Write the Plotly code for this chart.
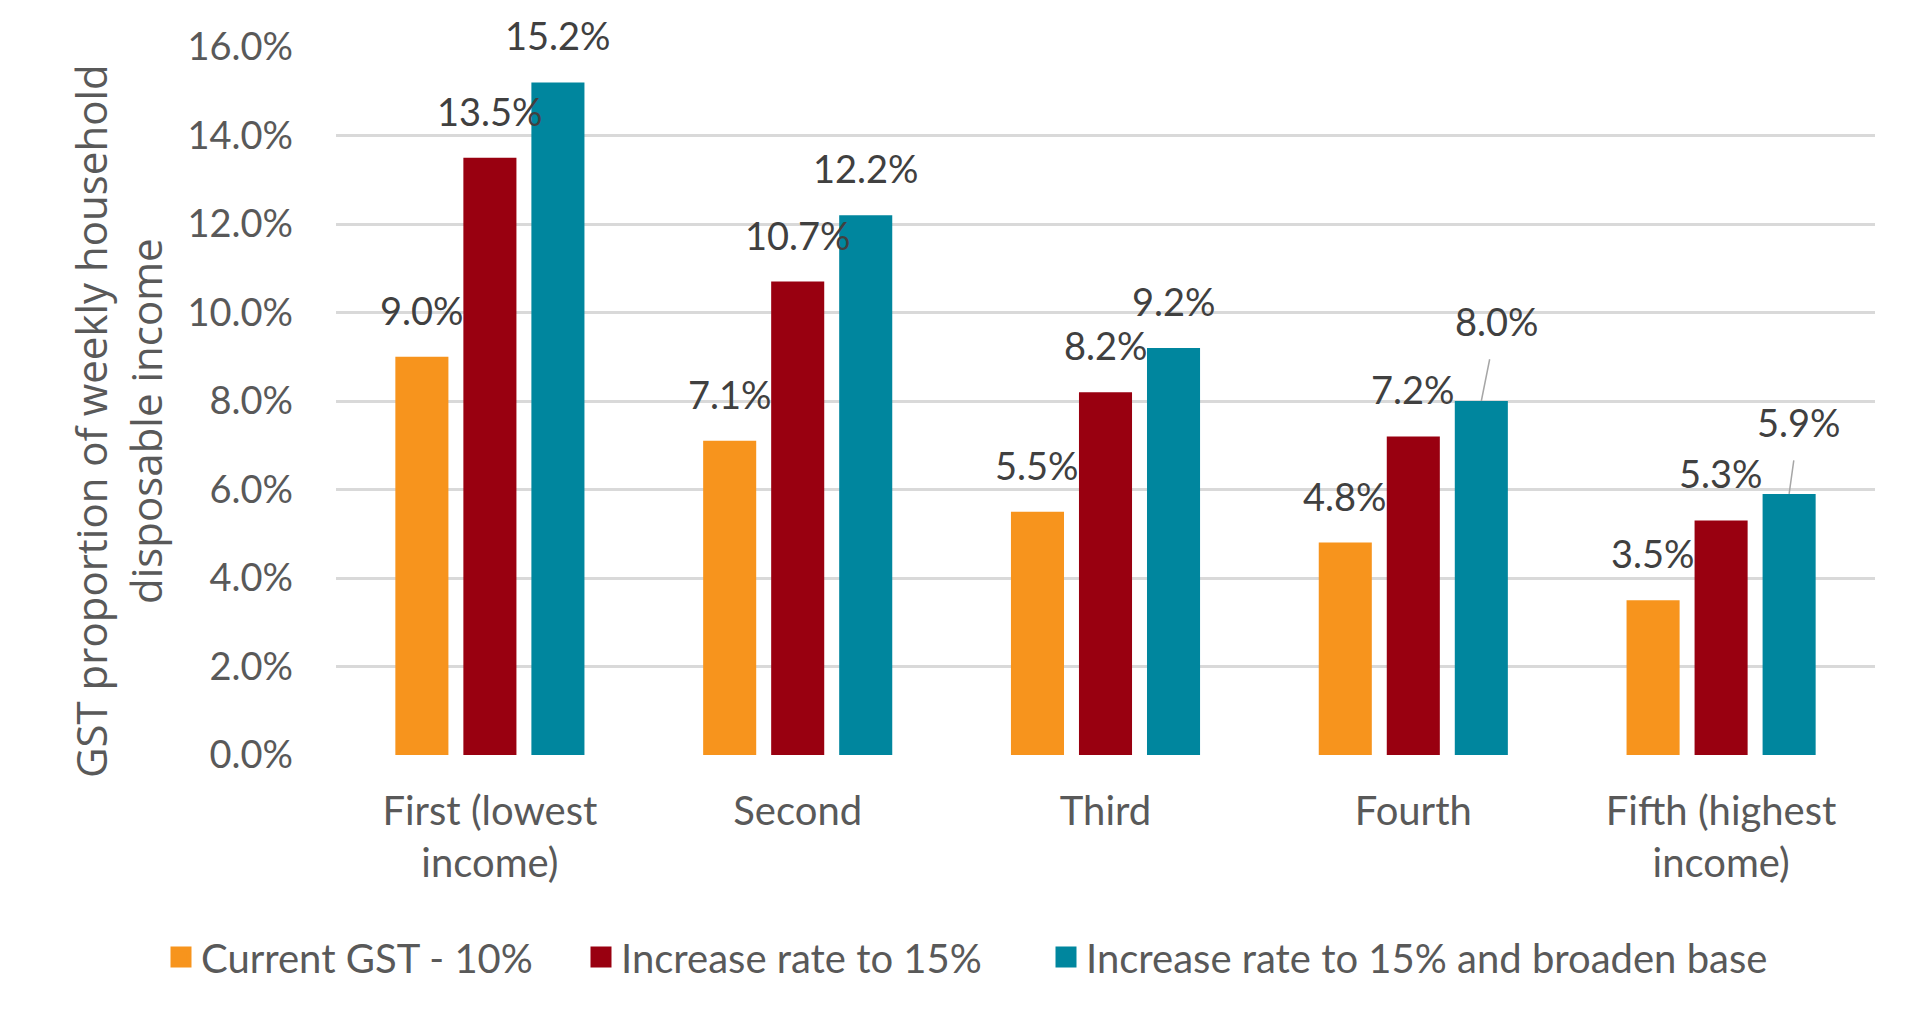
import plotly.graph_objects as go

# Data
categories = ["First (lowest<br>income)", "Second", "Third", "Fourth", "Fifth (highest<br>income)"]
series_names = ["Current GST - 10%", "Increase rate to 15%", "Increase rate to 15% and broaden base"]
current_gst = [9.0, 7.1, 5.5, 4.8, 3.5]
rate_15 = [13.5, 10.7, 8.2, 7.2, 5.3]
rate_15_broad = [15.2, 12.2, 9.2, 8.0, 5.9]
y_ticks = [0, 2, 4, 6, 8, 10, 12, 14, 16]

colors = ["#F7941D", "#990010", "#00869E"]
series_values = [current_gst, rate_15, rate_15_broad]

# plot area in page pixels (page has an 8px body margin)
PAGE_OFF = 8
PL, PR, PT, PB = 336, 1875, 47, 755


def px_x(p):
    return (p - PL) / (PR - PL)


def px_y(p):
    return (PB - p) / (PB - PT)


BARGAP = 0.337
BARGROUPGAP = 0.22
LABEL_FONT = dict(family="Lato", size=38, color="#404040")
TICK_FONT = dict(family="Lato", size=38, color="#595959")

# labels pushed off their bar with a leader line: (series, category) -> (ax, ay)
leaders = {(2, 3): (16, -80), (2, 4): (10, -72)}
# legend swatch centres (page px) for each series
legend_x = [186, 606, 1071]

fig = go.Figure()

for name, vals, col in zip(series_names, series_values, colors):
    fig.add_trace(go.Bar(
        x=categories, y=vals, name=name,
        marker=dict(color=col, line=dict(width=0)),
        showlegend=False, hoverinfo="skip"
    ))

# legend entries with bigger square swatches, one legend per series
for i, (name, col) in enumerate(zip(series_names, colors)):
    lg = "legend" if i == 0 else f"legend{i + 1}"
    fig.add_trace(go.Scatter(
        x=[None], y=[None], mode="markers", name=name, legend=lg,
        marker=dict(symbol="square", size=16, color=col, line=dict(width=5, color=col)),
        hoverinfo="skip"
    ))

# Data labels above each bar
slot = (1 - BARGAP) / len(series_names)
for s, vals in enumerate(series_values):
    for c, v in enumerate(vals):
        xpos = c + (s - 1) * slot
        if (s, c) in leaders:
            ax, ay = leaders[(s, c)]
            fig.add_annotation(
                x=xpos, y=v, text=f"{v:.1f}%", font=LABEL_FONT,
                showarrow=True, arrowhead=0, arrowwidth=1.5, arrowcolor="#a6a6a6",
                ax=ax, ay=ay, standoff=0, startstandoff=14
            )
        else:
            fig.add_annotation(
                x=xpos, y=v, text=f"{v:.1f}%", font=LABEL_FONT,
                showarrow=False, yanchor="middle", yshift=47
            )

# y axis title
fig.add_annotation(
    xref="paper", yref="paper", x=px_x(118), y=px_y(421),
    xanchor="center", yanchor="middle", textangle=-90, showarrow=False,
    text="GST proportion of weekly household<br>disposable income",
    font=dict(family="Open Sans", size=42, color="#595959")
)

fig.update_xaxes(
    tickfont=dict(family="Lato", size=40, color="#595959"),
    showgrid=False, showline=False, ticks="", ticklabelstandoff=29
)
fig.update_yaxes(
    range=[0, 16], tickvals=y_ticks, ticktext=[f"{t:.1f}%" for t in y_ticks],
    tickfont=TICK_FONT, showgrid=True, gridcolor="#d9d9d9", gridwidth=2.5,
    zeroline=False, showline=False, ticks="", ticklabelstandoff=42
)

legend_common = dict(
    orientation="h", xanchor="left", yanchor="middle", y=px_y(957),
    font=dict(family="Lato", size=40, color="#595959"),
    bgcolor="rgba(0,0,0,0)", borderwidth=0, itemwidth=30
)
fig.update_layout(
    width=1920, height=1020,
    margin=dict(l=PL - PAGE_OFF, r=1920 + PAGE_OFF - PR, t=PT - PAGE_OFF,
                b=1020 + PAGE_OFF - PB, autoexpand=False),
    plot_bgcolor="white", paper_bgcolor="white",
    barmode="group", bargap=BARGAP, bargroupgap=BARGROUPGAP,
    showlegend=True,
    legend=dict(x=px_x(legend_x[0] - 25), **legend_common),
    legend2=dict(x=px_x(legend_x[1] - 25), **legend_common),
    legend3=dict(x=px_x(legend_x[2] - 25), **legend_common),
)

fig.write_html("out.html")
